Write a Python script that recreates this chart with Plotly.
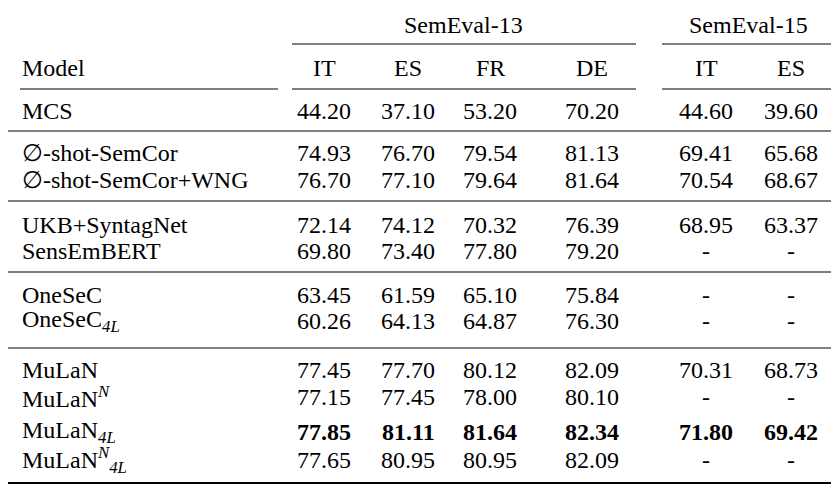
import plotly.graph_objects as go

models = ["MCS", "∅-shot-SemCor", "∅-shot-SemCor+WNG", "UKB+SyntagNet", "SensEmBERT",
          "OneSeC", "OneSeC<sub><i>4L</i></sub>", "MuLaN", "MuLaN<sup><i>N</i></sup>",
          "MuLaN<sub><i>4L</i></sub>", "MuLaN<sup><i>N</i></sup><sub><i>4L</i></sub>"]
cols = ["IT", "ES", "FR", "DE", "IT", "ES"]
groups = ["SemEval-13", "SemEval-15"]
values = [
    ["44.20", "37.10", "53.20", "70.20", "44.60", "39.60"],
    ["74.93", "76.70", "79.54", "81.13", "69.41", "65.68"],
    ["76.70", "77.10", "79.64", "81.64", "70.54", "68.67"],
    ["72.14", "74.12", "70.32", "76.39", "68.95", "63.37"],
    ["69.80", "73.40", "77.80", "79.20", "-", "-"],
    ["63.45", "61.59", "65.10", "75.84", "-", "-"],
    ["60.26", "64.13", "64.87", "76.30", "-", "-"],
    ["77.45", "77.70", "80.12", "82.09", "70.31", "68.73"],
    ["77.15", "77.45", "78.00", "80.10", "-", "-"],
    ["77.85", "81.11", "81.64", "82.34", "71.80", "69.42"],
    ["77.65", "80.95", "80.95", "82.09", "-", "-"],
]
bold_row = 9

row_y = [111, 153, 180, 225, 251, 295, 321, 370, 397, 432, 460]
col_x = [324, 408, 490, 592, 706, 791]
F = dict(family="Liberation Serif", size=24, color="black")

fig = go.Figure()
ann = []
def t(x, y, s, anchor="center"):
    ann.append(dict(x=x, y=y, text=s, showarrow=False, xanchor=anchor, yanchor="middle", font=F))

t(463, 25, groups[0]); t(748, 25, groups[1])
t(20, 68, "Model", "left")
for x, c in zip(col_x, cols):
    t(x, 68, c)
for r, (m, y) in enumerate(zip(models, row_y)):
    t(20, y, m, "left")
    for x, v in zip(col_x, values[r]):
        t(x, y, f"<b>{v}</b>" if r == bold_row else v)

shapes = []
def line(x0, x1, y, w):
    shapes.append(dict(type="line", x0=x0, x1=x1, y0=y, y1=y, line=dict(color="black", width=w)))
line(3, 836, 4, 2)
line(292, 636, 44, 1); line(662, 834, 44, 1)
line(20, 278, 89, 1); line(292, 636, 89, 1); line(662, 834, 89, 1)
for y in [131, 201, 272, 348]:
    line(3, 836, y, 1)
line(3, 836, 483, 2)

fig.update_layout(width=839, height=489, margin=dict(l=0, r=0, t=0, b=0),
                  paper_bgcolor="white", plot_bgcolor="white",
                  xaxis=dict(range=[8, 847], visible=False, fixedrange=True),
                  yaxis=dict(range=[497, 8], visible=False, fixedrange=True),
                  annotations=ann, shapes=shapes, showlegend=False)
fig.write_html("out.html")
